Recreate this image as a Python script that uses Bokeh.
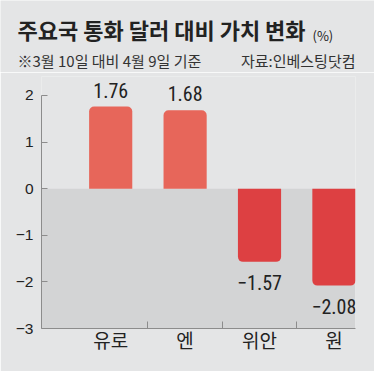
from bokeh.plotting import figure
from bokeh.models import ColumnDataSource, FixedTicker, BoxAnnotation, Range1d
from bokeh.layouts import column
from bokeh.core.properties import value
from bokeh.embed import file_html
from bokeh.resources import INLINE

# ---- data ----
currencies = ["유로", "엔", "위안", "원"]
changes = [1.76, 1.68, -1.57, -2.08]
change_labels = ["1.76", "1.68", "\u22121.57", "\u22122.08"]
y_ticks = [-3, -2, -1, 0, 1, 2]
y_tick_labels = ["\u22123", "\u22122", "\u22121", "0", "1", "2"]

title_text = "주요국 통화 달러 대비 가치 변화"
unit_text = "(%)"
subtitle_text = "※3월 10일 대비 4월 9일 기준"
source_text = "자료:인베스팅닷컴"

BG = "#e4e5e6"
SHADE = "#d3d4d5"
POS = "#e7665a"
NEG = "#dd4042"
TXT = "#222222"
AXC = "#8c8c8c"
NUM_FONT = "Liberation Sans Narrow, Roboto Condensed, Liberation Sans"
KR_FONT = "Noto Sans CJK KR"

W = 374
HEAD_H = 72
CHART_H = 299

# ---- header (title / subtitle / source) ----
head = figure(width=W, height=HEAD_H, output_backend="svg", toolbar_location=None,
              x_range=Range1d(0, W), y_range=Range1d(HEAD_H, 0),
              x_axis_type=None, y_axis_type=None, min_border=0)
head.frame_align = False
head.background_fill_color = BG
head.border_fill_color = BG
head.outline_line_color = None
head.grid.visible = False

head.text(x=[17], y=[28.5], text=[title_text], text_font=value(KR_FONT), text_font_style="bold",
          text_font_size="22px", text_color=TXT, text_baseline="middle")
head.text(x=[312], y=[34.5], text=[unit_text], text_font=value(KR_FONT),
          text_font_size="13px", text_color=TXT, text_baseline="middle")
head.text(x=[17], y=[59.5], text=[subtitle_text], text_font=value(KR_FONT),
          text_font_size="15px", text_color="#333333", text_baseline="middle")
head.text(x=[355], y=[59.5], text=[source_text], text_font=value(KR_FONT),
          text_font_size="15px", text_color="#333333", text_baseline="middle", text_align="right")

# ---- chart ----
xs = list(range(len(currencies)))
pos_src = ColumnDataSource(dict(
    x=[x for x, v in zip(xs, changes) if v >= 0],
    top=[v for v in changes if v >= 0],
    lab=[l for l, v in zip(change_labels, changes) if v >= 0]))
neg_src = ColumnDataSource(dict(
    x=[x for x, v in zip(xs, changes) if v < 0],
    bottom=[v for v in changes if v < 0],
    lab=[l for l, v in zip(change_labels, changes) if v < 0]))

p = figure(width=W, height=CHART_H, output_backend="svg", toolbar_location=None,
           x_range=Range1d(-0.93, 3.29), y_range=Range1d(-3, 2.406),
           min_border_left=41, min_border_right=19, min_border_top=4, min_border_bottom=43)
p.frame_align = False
p.background_fill_color = BG
p.border_fill_color = BG
p.outline_line_color = None
p.xgrid.visible = False
p.ygrid.visible = False

p.add_layout(BoxAnnotation(top=0, fill_color=SHADE, fill_alpha=1, line_color=None, level="underlay"))

p.vbar(x="x", top="top", bottom=0, width=0.58, source=pos_src, fill_color=POS,
       line_color=None, border_radius=(5, 5, 0, 0))
p.vbar(x="x", top=0, bottom="bottom", width=0.58, source=neg_src, fill_color=NEG,
       line_color=None, border_radius=(0, 0, 5, 5))

p.text(x="x", y="top", text="lab", source=pos_src, text_align="center", text_baseline="bottom",
       y_offset=-9, text_font=value(NUM_FONT), text_font_size="20px", text_color=TXT)
p.text(x="x", y="bottom", text="lab", source=neg_src, text_align="center", text_baseline="top",
       y_offset=13, text_font=value(NUM_FONT), text_font_size="20px", text_color=TXT)

ya = p.yaxis[0]
ya.ticker = FixedTicker(ticks=y_ticks, minor_ticks=[])
ya.major_label_overrides = {t: l for t, l in zip(y_ticks, y_tick_labels)}
ya.bounds = (-3, 2)
ya.major_tick_in = 6
ya.major_tick_out = 0
ya.major_label_standoff = 8
ya.axis_line_color = AXC
ya.major_tick_line_color = AXC
ya.major_label_text_font = "Liberation Sans"
ya.major_label_text_font_size = "15.5px"
ya.major_label_text_color = TXT

xa = p.xaxis[0]
xa.ticker = FixedTicker(ticks=xs, minor_ticks=[0.5, 1.5, 2.5])
xa.major_label_overrides = {i: c for i, c in zip(xs, currencies)}
xa.major_tick_line_color = None
xa.minor_tick_in = 7
xa.minor_tick_out = 0
xa.minor_tick_line_color = AXC
xa.axis_line_color = AXC
xa.major_label_standoff = -9
xa.major_label_text_font = KR_FONT
xa.major_label_text_font_size = "19px"
xa.major_label_text_color = TXT

layout = column(head, p, spacing=0)
open("out.html", "w").write(file_html(layout, INLINE))
